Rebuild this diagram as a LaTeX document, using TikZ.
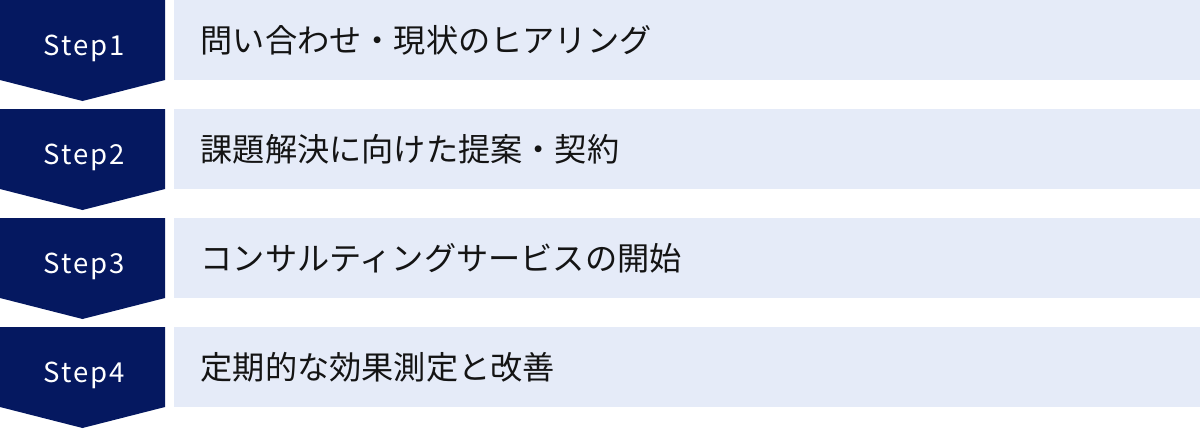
\documentclass[tikz,border=0pt]{standalone}
\usepackage{fontspec}
\newfontfamily\jpfont{Noto Sans CJK JP}
\newfontfamily\stepfont[LetterSpace=7]{Noto Sans CJK JP}
\definecolor{navy}{RGB}{5,24,96}
\definecolor{lavender}{RGB}{229,235,248}
\definecolor{inkblack}{RGB}{20,20,20}
\tikzset{
  steplabel/.style={text=white,font=\stepfont\fontsize{27.5}{32}\selectfont,inner sep=0pt,anchor=base},
  tasklabel/.style={text=inkblack,font=\jpfont\fontsize{32.2}{36}\selectfont,inner sep=0pt,anchor=west}
}
\begin{document}
\begin{tikzpicture}[x=1pt,y=-1pt]
\useasboundingbox (0,0) rectangle (1200,429);
\foreach \i/\txt in {1/問い合わせ・現状のヒアリング,2/課題解決に向けた提案・契約,3/コンサルティングサービスの開始,4/定期的な効果測定と改善}{
  \pgfmathsetmacro\top{(\i-1)*109}
  \fill [lavender] (174,\top) rectangle (1200,\top+80);
  \fill [navy] (0,\top) -- (165,\top) -- (165,\top+80) -- (82.5,\top+101) -- (0,\top+80) -- cycle;
  \node [steplabel] (step\i) at (84,\top+55) {Step\i};
  \node [tasklabel] (task\i) at (200.5,\top+40.5) {\txt};
}
\end{tikzpicture}
\end{document}
